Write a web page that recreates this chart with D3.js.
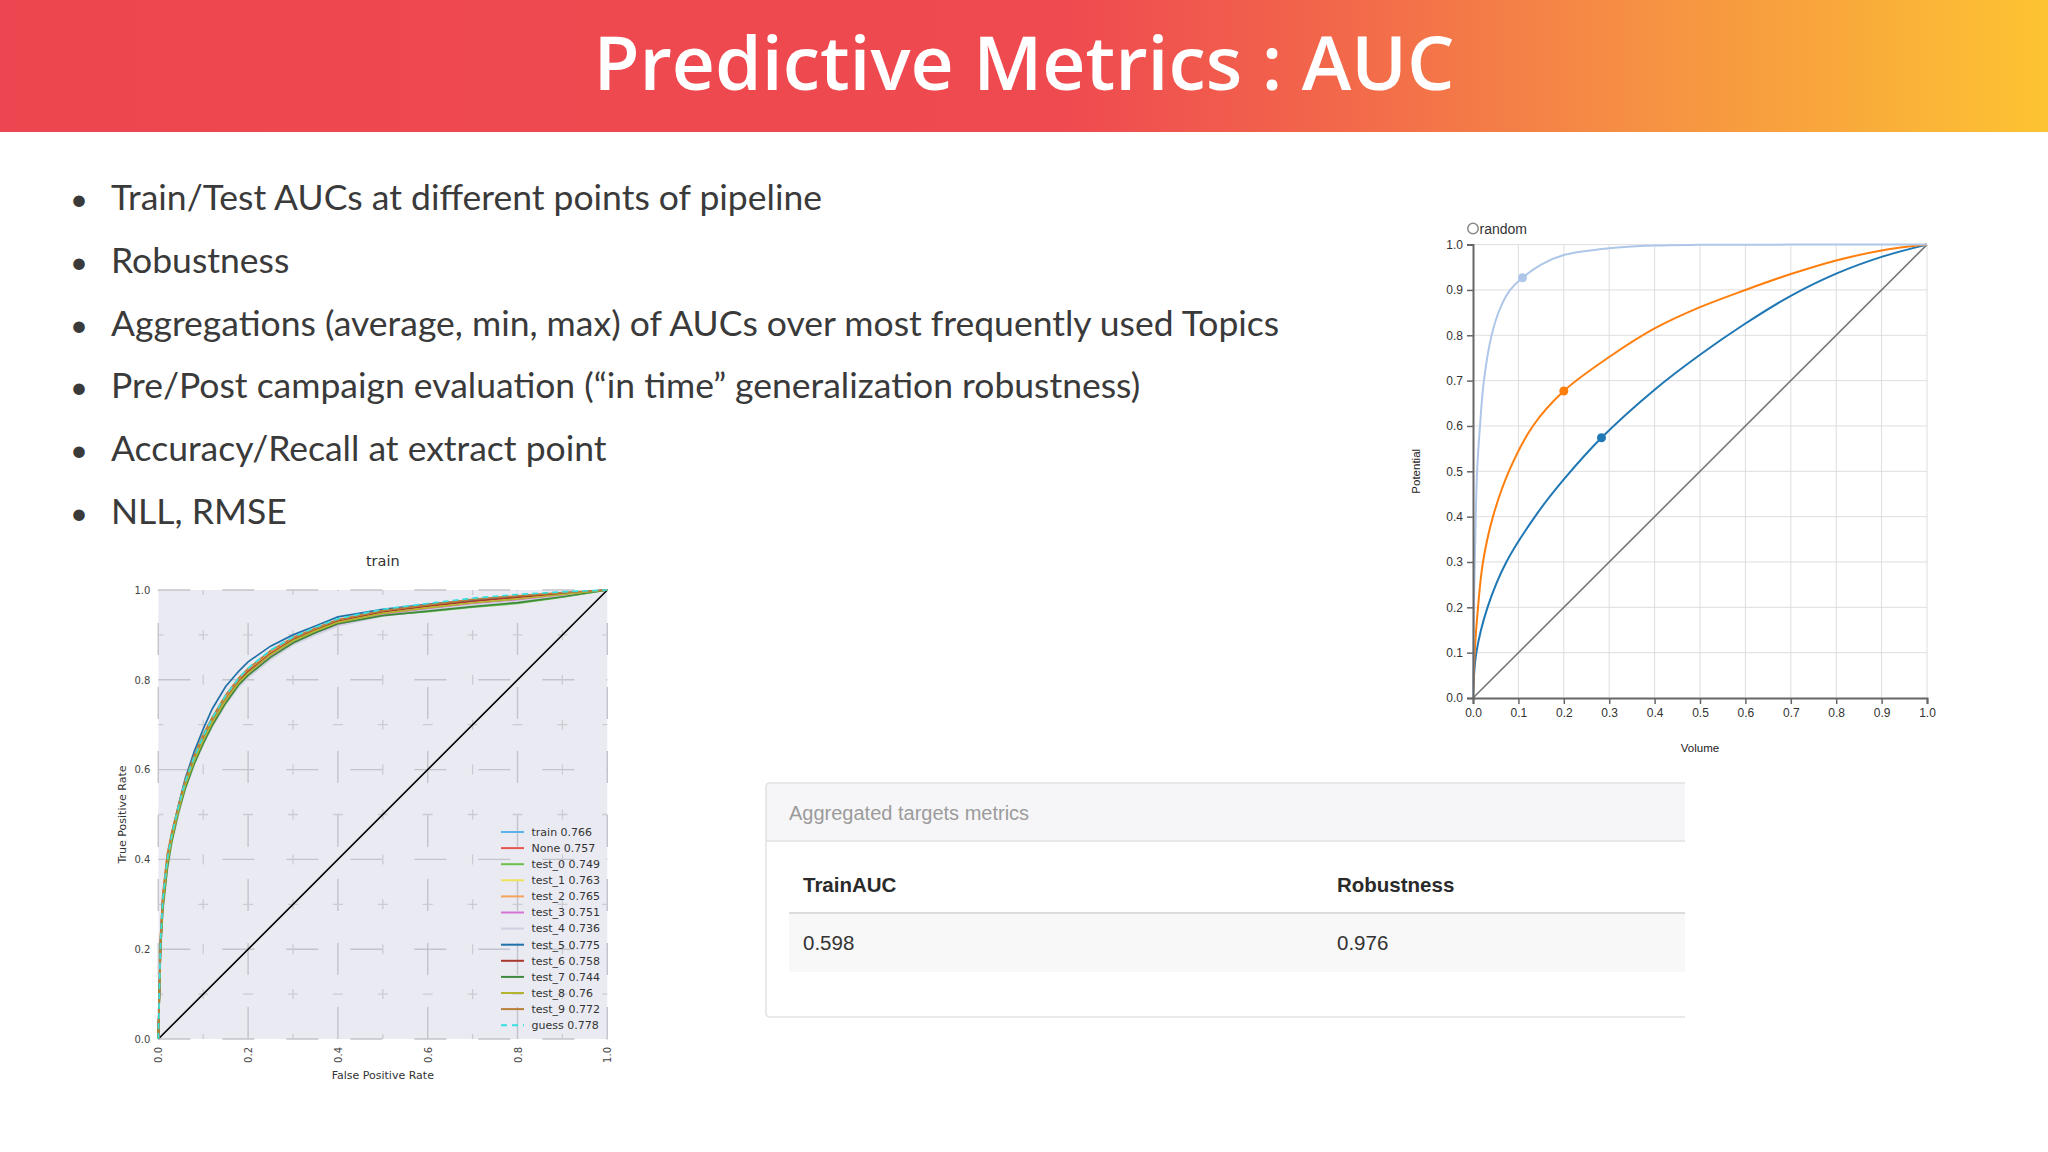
<!DOCTYPE html>
<html><head><meta charset="utf-8">
<script src="https://d3js.org/d3.v7.min.js"></script>
<style>html,body{margin:0;padding:0;background:#fff;overflow:hidden}</style>
</head><body>
<svg id="slide" width="2048" height="1152"></svg>
<script>
// ---------------- data ----------------
const slideTitle = "Predictive Metrics : AUC";
const bulletItems = [
  "Train/Test AUCs at different points of pipeline",
  "Robustness",
  "Aggregations (average, min, max) of AUCs over most frequently used Topics",
  "Pre/Post campaign evaluation (\u201Cin time\u201D generalization robustness)",
  "Accuracy/Recall at extract point",
  "NLL, RMSE"
];

// left ROC chart
const rocTitle = "train";
const rocXLabel = "False Positive Rate";
const rocYLabel = "True Positive Rate";
const rocTicks = [0, 0.2, 0.4, 0.6, 0.8, 1.0];
const rocMajorGrid = [0, 0.2, 0.4, 0.6, 0.8, 1.0];
const rocMinorGrid = [0.1, 0.3, 0.5, 0.7, 0.9];
const rocFpr = [0, .005, .01, .02, .03, .045, .06, .08, .1, .12, .15, .18, .2, .25, .3, .35, .4, .5, .6, .7, .8, .9, 1];
const rocNames = ["train","None","test_0","test_1","test_2","test_3","test_4","test_5","test_6","test_7","test_8","test_9","guess"];
const rocAucs  = ["0.766","0.757","0.749","0.763","0.765","0.751","0.736","0.775","0.758","0.744","0.76","0.772","0.778"];
const rocColors = ["#5ab4ea","#e8574f","#6cc04a","#eee35a","#f5a25c","#d674d6","#cfd0e2","#2270a8","#a8382e","#3d8a3d","#b3b52f","#b97f3a","#36e0e0"];
const tprTrain = [0,.22,.31,.40,.45,.515,.57,.625,.67,.71,.76,.80,.82,.86,.89,.913,.932,.953,.966,.977,.986,.993,1];
const tprNone  = [0,.21,.30,.39,.45,.51,.565,.62,.665,.705,.755,.795,.815,.857,.888,.91,.93,.95,.963,.975,.983,.991,1];
const tprTest0 = [0,.20,.29,.38,.44,.505,.56,.615,.66,.70,.75,.79,.81,.852,.884,.907,.926,.944,.952,.962,.970,.984,1];
const tprTest1 = [0,.21,.30,.39,.45,.51,.568,.622,.668,.708,.758,.798,.818,.86,.89,.912,.931,.95,.962,.972,.98,.99,1];
const tprTest2 = [0,.23,.32,.41,.46,.52,.575,.63,.675,.713,.763,.802,.822,.862,.892,.914,.933,.953,.965,.975,.984,.992,1];
const tprTest3 = [0,.20,.29,.385,.445,.508,.563,.618,.664,.703,.753,.792,.812,.852,.882,.905,.922,.946,.958,.97,.978,.988,1];
const tprTest4 = [0,.19,.28,.375,.435,.50,.555,.61,.655,.695,.745,.785,.805,.845,.878,.90,.92,.942,.955,.966,.975,.986,1];
const tprTest5 = [0,.22,.31,.40,.455,.52,.58,.64,.69,.735,.785,.82,.84,.875,.90,.92,.94,.957,.968,.978,.986,.993,1];
const tprTest6 = [0,.21,.30,.39,.45,.512,.567,.622,.668,.707,.757,.797,.818,.858,.889,.911,.93,.951,.964,.975,.984,.992,1];
const tprTest7 = [0,.20,.29,.38,.44,.505,.558,.613,.658,.698,.748,.79,.81,.85,.882,.905,.925,.943,.953,.963,.972,.985,1];
const tprTest8 = [0,.21,.30,.39,.447,.51,.565,.62,.665,.705,.755,.795,.815,.856,.887,.909,.928,.948,.96,.971,.98,.99,1];
const tprTest9 = [0,.23,.32,.41,.46,.52,.577,.632,.678,.716,.766,.805,.825,.865,.894,.915,.934,.954,.967,.979,.987,.994,1];
const tprGuess = [0,.22,.31,.40,.455,.518,.573,.628,.674,.714,.765,.805,.826,.866,.895,.917,.936,.957,.97,.982,.99,.996,1];
const rocTprs = [tprTrain,tprNone,tprTest0,tprTest1,tprTest2,tprTest3,tprTest4,tprTest5,tprTest6,tprTest7,tprTest8,tprTest9,tprGuess];
const diagX = [0, 1];
const diagY = [0, 1];

// right lift chart
const liftLegend = "random";
const liftXLabel = "Volume";
const liftYLabel = "Potential";
const liftTicks = [0,0.1,0.2,0.3,0.4,0.5,0.6,0.7,0.8,0.9,1.0];
const lightX  = [0,0.002,0.005,0.009,0.0154,0.024,0.041,0.06,0.082,0.109,0.15,0.2,0.3,0.4,0.5,0.7,1.0];
const lightY  = [0,0.2,0.35,0.5,0.6,0.7,0.8,0.86,0.9,0.927,0.956,0.977,0.992,0.998,0.9995,1.0,1.0];
const orangeX = [0,0.0037,0.011,0.022,0.044,0.079,0.132,0.2,0.3,0.4,0.5,0.6,0.7,0.8,0.9,1.0];
const orangeY = [0,0.1,0.2,0.3,0.4,0.5,0.6,0.677,0.752,0.815,0.862,0.9,0.935,0.965,0.987,1.0];
const blueX   = [0,0.0074,0.032,0.0735,0.14,0.2,0.283,0.4,0.5,0.6,0.7,0.8,0.9,1.0];
const blueY   = [0,0.1,0.2,0.3,0.405,0.482,0.574,0.68,0.757,0.826,0.887,0.936,0.973,1.0];
const markerX = [0.109, 0.2, 0.283];
const markerY = [0.927, 0.677, 0.574];
const liftColors = ["#aec7e8", "#ff7f0e", "#1f77b4"];

// table
const tableTitle = "Aggregated targets metrics";
const tableHeaders = ["TrainAUC", "Robustness"];
const tableValues = ["0.598", "0.976"];

// ---------------- drawing ----------------
const svg = d3.select("#slide");
const defs = svg.append("defs");
const grad = defs.append("linearGradient").attr("id","hdr").attr("x1","0").attr("x2","1").attr("y1","0").attr("y2","0");
[[0,"#ee4650"],[0.52,"#ef4a50"],[0.64,"#f2644b"],[0.78,"#f58b45"],[0.9,"#f9a93b"],[1,"#fdc432"]]
  .forEach(([o,c]) => grad.append("stop").attr("offset",o).attr("stop-color",c));

svg.append("rect").attr("x",0).attr("y",0).attr("width",2048).attr("height",132).attr("fill","url(#hdr)");
svg.append("text").attr("x",1024).attr("y",90).attr("text-anchor","middle")
  .attr("font-family","'Open Sans', sans-serif").attr("font-weight",600).attr("font-size",75)
  .attr("fill","#fff").text(slideTitle);

// bullets
const bul = svg.append("g").attr("font-family","Lato, 'Open Sans', sans-serif").attr("fill","#3a3a3a");
bulletItems.forEach((t,i) => {
  const y = 210 + i*62.8;
  bul.append("text").attr("x",79).attr("y",y).attr("text-anchor","middle").attr("font-size",31).text("\u2022");
  bul.append("text").attr("x",111).attr("y",y).attr("font-size",35.5).text(t);
});

// ---------- left ROC chart ----------
const xL = d3.scaleLinear().domain([0,1]).range([158.3,607.3]);
const yL = d3.scaleLinear().domain([0,1]).range([1039,590]);
const gl = svg.append("g");
gl.append("rect").attr("x",xL(0)).attr("y",yL(1)).attr("width",xL(1)-xL(0)).attr("height",yL(0)-yL(1)).attr("fill","#eaeaf2");
const unit = xL(0.1)-xL(0);
rocMajorGrid.forEach(v => {
  gl.append("line").attr("x1",xL(0)).attr("x2",xL(1)).attr("y1",yL(v)).attr("y2",yL(v))
    .attr("stroke","#c3c3cb").attr("stroke-width",1.4).attr("stroke-dasharray","32,32");
  gl.append("line").attr("x1",xL(v)).attr("x2",xL(v)).attr("y1",yL(0)).attr("y2",yL(1))
    .attr("stroke","#c3c3cb").attr("stroke-width",1.4).attr("stroke-dasharray","32,32");
});
rocMinorGrid.forEach(v => {
  gl.append("line").attr("x1",xL(0)).attr("x2",xL(1)).attr("y1",yL(v)).attr("y2",yL(v))
    .attr("stroke","#cbcbd3").attr("stroke-width",1.3).attr("stroke-dasharray",`10,${unit-10}`).attr("stroke-dashoffset",5);
  gl.append("line").attr("x1",xL(v)).attr("x2",xL(v)).attr("y1",yL(0)).attr("y2",yL(1))
    .attr("stroke","#cbcbd3").attr("stroke-width",1.3).attr("stroke-dasharray",`10,${unit-10}`).attr("stroke-dashoffset",5);
});
const lineL = d3.line().x(d=>xL(d[0])).y(d=>yL(d[1]));
gl.append("path").attr("d",lineL(d3.zip(diagX,diagY))).attr("fill","none").attr("stroke","#000").attr("stroke-width",1.6);
rocTprs.forEach((tpr,i) => {
  gl.append("path").attr("d",lineL(d3.zip(rocFpr,tpr))).attr("fill","none")
    .attr("stroke",rocColors[i]).attr("stroke-width",1.7)
    .attr("stroke-dasharray", rocNames[i]==="guess" ? "6,4" : null);
});
const axL = gl.append("g").attr("transform",`translate(${xL(0)},0)`)
  .call(d3.axisLeft(yL).tickValues(rocTicks).tickFormat(d3.format(".1f")).tickSize(0).tickPadding(8));
axL.select(".domain").remove();
axL.selectAll("text").attr("font-family","'DejaVu Sans', sans-serif").attr("font-size",10).attr("fill","#444");
const axB = gl.append("g").attr("transform",`translate(0,${yL(0)})`)
  .call(d3.axisBottom(xL).tickValues(rocTicks).tickFormat(d3.format(".1f")).tickSize(0));
axB.select(".domain").remove();
axB.selectAll("text").attr("font-family","'DejaVu Sans', sans-serif").attr("font-size",10).attr("fill","#444")
  .attr("transform","rotate(-90)").attr("x",-8).attr("y",0).attr("dy","0.35em").style("text-anchor","end");
gl.append("text").attr("x",(xL(0)+xL(1))/2).attr("y",566).attr("text-anchor","middle")
  .attr("font-family","'DejaVu Sans', sans-serif").attr("font-size",14.5).attr("fill","#333").text(rocTitle);
gl.append("text").attr("x",(xL(0)+xL(1))/2).attr("y",1079).attr("text-anchor","middle")
  .attr("font-family","'DejaVu Sans', sans-serif").attr("font-size",11).attr("fill","#333").text(rocXLabel);
gl.append("text").attr("transform",`translate(126,${(yL(0)+yL(1))/2}) rotate(-90)`).attr("text-anchor","middle")
  .attr("font-family","'DejaVu Sans', sans-serif").attr("font-size",11).attr("fill","#333").text(rocYLabel);
const lg = gl.append("g").attr("font-family","'DejaVu Sans', sans-serif").attr("font-size",11).attr("fill","#333");
rocNames.forEach((n,i) => {
  const y = 832 + i*16.1;
  lg.append("line").attr("x1",501).attr("x2",524).attr("y1",y).attr("y2",y)
    .attr("stroke",rocColors[i]).attr("stroke-width",2)
    .attr("stroke-dasharray", n==="guess" ? "6,5" : null);
  lg.append("text").attr("x",531.5).attr("y",y).attr("dy","0.35em").text(n + " " + rocAucs[i]);
});

// ---------- right lift chart ----------
const xR = d3.scaleLinear().domain([0,1]).range([1473,1927]);
const yR = d3.scaleLinear().domain([0,1]).range([698,244.6]);
const gr = svg.append("g");
liftTicks.slice(1).forEach(v => {
  gr.append("line").attr("x1",xR(v)).attr("x2",xR(v)).attr("y1",yR(0)).attr("y2",yR(1)).attr("stroke","#dedee2").attr("stroke-width",1);
  gr.append("line").attr("x1",xR(0)).attr("x2",xR(1)).attr("y1",yR(v)).attr("y2",yR(v)).attr("stroke","#dedee2").attr("stroke-width",1);
});
const lineR = d3.line().x(d=>xR(d[0])).y(d=>yR(d[1])).curve(d3.curveCatmullRom.alpha(0.5));
gr.append("path").attr("d",d3.line().x(d=>xR(d[0])).y(d=>yR(d[1]))(d3.zip(diagX,diagY)))
  .attr("fill","none").attr("stroke","#777").attr("stroke-width",1.6);
[[blueX,blueY,2],[orangeX,orangeY,1],[lightX,lightY,0]].forEach(([xs,ys,ci]) => {
  gr.append("path").attr("d",lineR(d3.zip(xs,ys))).attr("fill","none").attr("stroke",liftColors[ci]).attr("stroke-width",2);
});
markerX.forEach((mx,i) => {
  gr.append("circle").attr("cx",xR(mx)).attr("cy",yR(markerY[i])).attr("r",4.5).attr("fill",liftColors[i]);
});
const rY = gr.append("g").attr("transform",`translate(${xR(0)},0)`)
  .call(d3.axisLeft(yR).tickValues(liftTicks).tickFormat(d3.format(".1f")).tickSize(6).tickPadding(4));
const rX = gr.append("g").attr("transform",`translate(0,${yR(0)})`)
  .call(d3.axisBottom(xR).tickValues(liftTicks).tickFormat(d3.format(".1f")).tickSize(6).tickPadding(4));
[rY,rX].forEach(a => {
  a.select(".domain").attr("stroke","#666").attr("stroke-width",2);
  a.selectAll(".tick line").attr("stroke","#666").attr("stroke-width",1.5);
  a.selectAll("text").attr("font-family","'Liberation Sans', Arial, sans-serif").attr("font-size",12).attr("fill","#333");
});
gr.append("text").attr("x",(xR(0)+xR(1))/2).attr("y",752).attr("text-anchor","middle")
  .attr("font-family","'Liberation Sans', Arial, sans-serif").attr("font-size",11.5).attr("fill","#222").text(liftXLabel);
gr.append("text").attr("transform",`translate(1420,${(yR(0)+yR(1))/2}) rotate(-90)`).attr("text-anchor","middle")
  .attr("font-family","'Liberation Sans', Arial, sans-serif").attr("font-size",11.5).attr("fill","#222").text(liftYLabel);
gr.append("circle").attr("cx",1473).attr("cy",228.5).attr("r",5.2).attr("fill","none").attr("stroke","#888").attr("stroke-width",1.5);
gr.append("text").attr("x",1479.5).attr("y",233.5)
  .attr("font-family","'Liberation Sans', Arial, sans-serif").attr("font-size",14).attr("fill","#333").text(liftLegend);

// ---------- table card ----------
const gt = svg.append("g").attr("font-family","'Liberation Sans', Arial, sans-serif");
gt.append("rect").attr("x",766).attr("y",783).attr("width",919).attr("height",58).attr("fill","#f6f6f8");
gt.append("path").attr("d","M1685,783 H770 Q766,783 766,787 V1013 Q766,1017 770,1017 H1685")
  .attr("fill","none").attr("stroke","#e2e2e4").attr("stroke-width",1.5);
gt.append("line").attr("x1",766).attr("x2",1685).attr("y1",841).attr("y2",841).attr("stroke","#e2e2e4").attr("stroke-width",1.5);
gt.append("text").attr("x",789).attr("y",820).attr("font-size",20).attr("fill","#9b9b9b").text(tableTitle);
gt.append("rect").attr("x",789).attr("y",913).attr("width",896).attr("height",59).attr("fill","#f8f8f9");
gt.append("line").attr("x1",789).attr("x2",1685).attr("y1",913).attr("y2",913).attr("stroke","#dcdcdf").attr("stroke-width",2);
const colX = [803, 1337];
tableHeaders.forEach((h,i) => gt.append("text").attr("x",colX[i]).attr("y",892).attr("font-size",20.5).attr("font-weight",700).attr("fill","#2a2a2a").text(h));
tableValues.forEach((v,i) => gt.append("text").attr("x",colX[i]).attr("y",950).attr("font-size",20.5).attr("fill","#333").text(v));
</script>
</body></html>
